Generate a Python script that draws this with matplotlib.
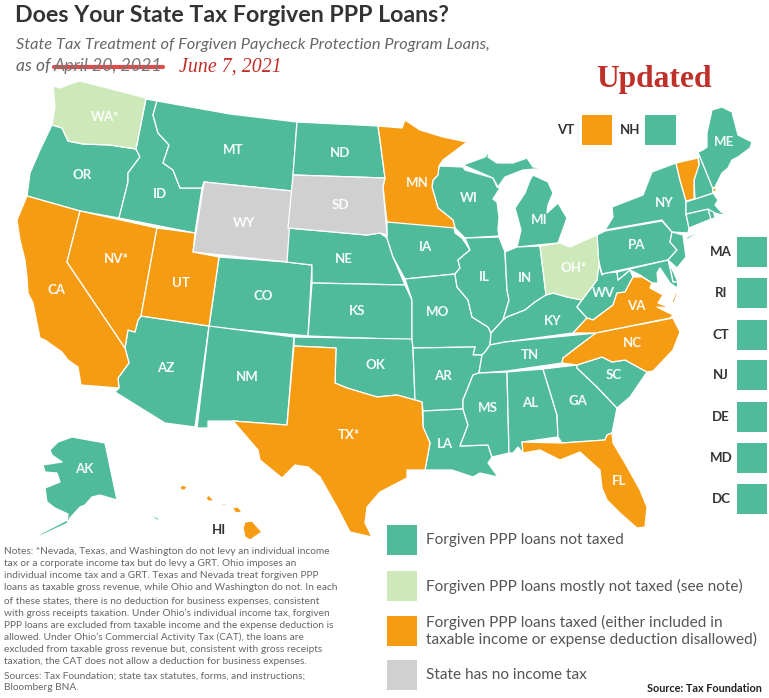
"""
plot.py - Does Your State Tax Forgiven PPP Loans? map, saved to out.png
"""

import matplotlib
matplotlib.use("Agg")
import matplotlib.pyplot as plt
from matplotlib.patches import Polygon, Rectangle

OUTPUT_FILE = "out.png"

GREEN  = "#4fbb9a"
LIGHT  = "#cde9b9"
ORANGE = "#f59c12"
GRAY   = "#d0d0d0"
RED    = "#c0302a"

# Status per state
NOT_TAXED = ["OR", "ID", "MT", "ND", "CO", "NE", "KS", "OK", "AZ", "NM", "IA", "MO", "AR", "LA",
             "WI", "MI_UP", "MI_LP", "IL", "IN", "KY", "TN", "MS", "AL", "GA", "SC", "WV", "PA",
             "NY", "LI", "NJ", "DE", "MD", "CT", "RI", "MA", "NH", "ME", "AK", "AK_PAN", "AK_ALEUT"]
MOSTLY_NOT_TAXED = ["WA", "OH"]
TAXED = ["CA", "NV", "UT", "TX", "MN", "VA", "VA_SHORE", "NC", "FL", "VT", "NH_COAST",
         "HI_1", "HI_2", "HI_3", "HI_4", "HI_5"]
NO_INCOME_TAX = ["WY", "SD"]

# Hand traced outlines, in image pixels
OUTLINES = {
    "WA": [(53,86),(60,88),(70,84),(80,81),(146,98),(136,149),(110,145),(83,144),(68,141),(62,128),(52,125),(55,107)],
    "OR": [(52,125),(62,128),(68,141),(83,144),(110,145),(136,149),(140,157),(128,173),(128,182),(119,218),(80,211),(27,196),(30,173),(40,150)],
    "ID": [(146,99),(157,101),(153,115),(158,133),(169,145),(163,163),(173,170),(180,188),(202,188),(195,233),(119,218),(128,182),(128,173),(140,157),(136,149)],
    "MT": [(157,101),(230,114),(297,122),(292,191),(204,182),(202,188),(180,188),(173,170),(163,163),(169,145),(158,133),(153,115)],
    "ND": [(297,122),(378,126),(380,140),(385,178),(293,175)],
    "SD": [(293,175),(385,178),(383,187),(387,235),(380,233),(367,235),(288,228)],
    "WY": [(204,182),(292,191),(287,262),(193,252)],
    "UT": [(157,228),(195,233),(193,252),(219,257),(209,326),(141,316)],
    "NV": [(80,211),(157,228),(141,316),(138,320),(135,332),(128,330),(125,348),(67,262)],
    "CA": [(27,196),(80,211),(67,262),(125,348),(129,363),(118,378),(119,388),(81,385),(78,367),(68,360),(62,352),(45,340),(40,338),(33,303),(28,293),(27,277),(25,260),(20,240),(17,220)],
    "AZ": [(141,316),(209,326),(195,427),(165,423),(115,392),(119,388),(118,378),(129,363),(125,348),(128,330),(135,332),(138,320)],
    "NM": [(209,326),(294,337),(287,425),(233,421),(208,421),(208,428),(197,428)],
    "CO": [(219,257),(287,262),(312,265),(308,336),(209,327)],
    "NE": [(288,228),(367,235),(380,233),(387,238),(393,257),(405,285),(312,283),(312,265),(286,262)],
    "KS": [(312,283),(405,285),(412,300),(412,340),(308,336)],
    "OK": [(294,337),(412,339),(413,348),(415,400),(397,395),(377,397),(347,388),(335,383),(336,348),(294,346)],
    "TX": [(294,346),(336,348),(335,383),(347,388),(377,397),(397,395),(415,400),(422,402),(423,427),(430,443),(425,470),(407,470),
           (407,478),(380,492),(367,507),(365,523),(372,537),(350,532),(337,507),(320,477),(308,467),(295,465),(282,478),(260,460),(258,450),(233,421),(287,425)],
    "MN": [(378,126),(402,128),(405,120),(420,130),(443,137),(467,142),(443,160),(439,166),(438,175),(433,180),(432,187),(438,208),(453,220),(455,228),(387,222),(383,187),(385,178),(380,140)],
    "IA": [(387,222),(453,222),(455,233),(462,238),(470,250),(458,260),(460,268),(455,274),(405,279),(393,257),(387,238)],
    "MO": [(405,279),(455,274),(457,287),(468,300),(472,317),(488,327),(491,333),(490,345),(485,352),(482,355),(473,355),(475,347),(413,348),(412,339),(412,300)],
    "AR": [(413,348),(475,347),(473,355),(482,355),(479,373),(473,375),(463,400),(463,409),(423,411),(422,402),(415,400)],
    "LA": [(423,411),(463,409),(468,425),(460,446),(488,445),(492,457),(488,463),(498,477),(480,473),(473,477),(452,470),(425,470),(430,443),(423,427)],
    "WI": [(439,166),(463,167),(465,170),(493,178),(497,187),(500,188),(493,199),(497,202),(499,217),(498,230),(499,236),(465,238),(455,228),(453,220),(438,208),(432,187),(433,180),(438,175)],
    "MI_UP": [(463,165),(485,157),(490,150),(488,157),(497,163),(513,163),(527,158),(533,167),(547,168),(523,170),(505,177),(498,187),(493,178)],
    "MI_LP": [(533,175),(548,182),(553,193),(548,205),(547,213),(558,203),(567,218),(558,243),(517,247),(521,230),(515,208),(525,193),(530,180)],
    "IL": [(465,238),(499,237),(505,252),(507,290),(509,300),(503,320),(491,333),(488,327),(472,317),(468,300),(457,287),(455,274),(460,268),(458,260),(470,250)],
    "IN": [(505,252),(517,247),(540,246),(546,295),(535,302),(525,310),(507,317),(503,320),(509,300),(507,290)],
    "OH": [(540,246),(560,243),(570,247),(597,235),(599,265),(597,280),(582,300),(567,297),(553,293),(546,295)],
    "KY": [(503,320),(507,317),(525,310),(535,302),(546,295),(553,293),(567,297),(582,300),(577,307),(587,318),(573,333),(505,342),(490,345),(491,333)],
    "TN": [(490,345),(505,342),(596,333),(580,345),(563,358),(562,363),(507,371),(479,373),(482,355),(485,352)],
    "MS": [(479,373),(507,372),(509,453),(492,457),(488,445),(460,446),(468,425),(463,409),(463,400),(473,375)],
    "AL": [(507,372),(543,369),(557,415),(558,437),(522,442),(523,453),(518,447),(513,453),(509,453)],
    "GA": [(543,369),(577,365),(577,368),(597,387),(617,408),(612,433),(607,435),(605,440),(562,443),(558,437),(557,415)],
    "SC": [(577,368),(577,365),(602,357),(612,362),(625,360),(647,372),(630,397),(617,408),(597,387)],
    "NC": [(596,333),(673,318),(680,332),(673,350),(653,371),(647,372),(625,360),(612,362),(602,357),(577,365),(562,363),(563,358),(580,345)],
    "VA": [(573,333),(587,318),(593,320),(613,305),(617,293),(625,292),(633,277),(642,277),(652,283),(650,288),(663,295),(658,303),(670,308),(657,307),(673,315),(670,318),(596,333)],
    "VA_SHORE": [(676,292),(677,294),(674,303),(672,302)],
    "WV": [(598,262),(602,275),(605,273),(617,272),(618,280),(630,270),(633,277),(625,292),(617,293),(613,305),(593,320),(587,318),(577,307),(582,300),(597,280)],
    "FL": [(522,442),(562,443),(605,440),(607,435),(612,433),(613,443),(625,463),(640,490),(647,507),(645,527),(637,528),(620,513),(607,500),(602,488),(600,470),(580,452),(560,460),(540,450),(523,453)],
    "PA": [(597,235),(605,231),(662,221),(672,232),(670,242),(677,250),(668,260),(602,274),(598,258)],
    "NY": [(605,230),(613,217),(612,207),(643,195),(652,172),(676,163),(680,180),(686,201),(686,214),(689,228),(688,233),(672,232),(662,220)],
    "LI": [(685,238),(707,228),(688,239)],
    "NJ": [(672,232),(683,235),(686,257),(677,268),(668,260),(677,250),(670,242)],
    "DE": [(668,260),(678,282),(673,282),(670,268)],
    "MD": [(617,272),(668,260),(670,268),(673,282),(678,282),(677,288),(670,283),(660,268),(657,273),(658,283),(652,283),(640,275),(630,270),(618,280)],
    "CT": [(686,214),(708,209),(711,219),(689,228)],
    "RI": [(708,209),(713,208),(715,218),(711,219)],
    "MA": [(686,202),(713,193),(718,200),(715,205),(722,213),(732,208),(722,215),(715,213),(708,209),(686,214)],
    "VT": [(676,163),(698,158),(699,165),(694,180),(694,199),(686,201),(680,180)],
    "NH": [(698,152),(713,188),(713,193),(695,199),(694,180),(699,163)],
    "NH_COAST": [(713,188),(716,188),(716,191),(713,192)],
    "ME": [(698,152),(703,150),(707,147),(707,133),(712,110),(722,107),(732,112),(738,135),(752,142),(750,148),(738,157),(732,160),(728,168),(722,173),(715,187),(713,189)],
    "AK": [(50,450),(58,442),(72,437),(105,443),(117,500),(100,495),(92,497),(85,505),(80,507),(70,518),(67,525),(68,514),(55,508),(47,502),(45,488),(60,482),(57,473),(45,472),(43,465),(62,462),(52,455)],
    "AK_PAN": [(117,500),(130,505),(158,518),(160,522),(145,512),(133,507)],
    "AK_ALEUT": [(67,520),(40,534),(40,536),(68,523)],
    "HI_1": [(180,487),(183,485),(187,487),(185,490),(181,490)],
    "HI_2": [(206,498),(209,495),(214,501),(208,501)],
    "HI_3": [(222,503),(228,504),(228,505),(222,505)],
    "HI_4": [(232,508),(238,507),(242,512),(236,513)],
    "HI_5": [(245,522),(252,521),(262,532),(250,540),(245,537),(243,528)],
}

# Map labels: text, x, y
MAP_LABELS = [("WA*",105,117),("OR",82,175),("ID",160,194),("MT",233,150),("ND",340,153),("SD",340,205),
              ("WY",244,223),("NV*",116,259),("UT",181,283),("CA",57,290),("CO",263,296),("NE",344,259),
              ("KS",357,311),("AZ",166,368),("NM",247,377),("OK",375,365),("TX*",349,435),("MN",417,183),
              ("IA",426,247),("MO",438,312),("AR",443,376),("LA",445,444),("WI",469,198),("IL",484,277),
              ("MI",539,220),("IN",525,278),("OH*",574,268),("KY",553,321),("TN",530,355),("MS",488,408),
              ("AL",530,403),("GA",578,401),("SC",614,375),("NC",632,343),("VA",636,306),("WV",603,293),
              ("PA",637,245),("NY",664,203),("ME",724,142),("FL",619,481),("AK",84,469)]

SMALL_STATES = ["MA", "RI", "CT", "NJ", "DE", "MD", "DC"]
SMALL_STATE_TOPS = [237, 278, 320, 360, 402, 443, 484]

LEGEND_LABELS = ["Forgiven PPP loans not taxed",
                 "Forgiven PPP loans mostly not taxed (see note)",
                 "Forgiven PPP loans taxed (either included in\ntaxable income or expense deduction disallowed)",
                 "State has no income tax"]
LEGEND_COLORS = [GREEN, LIGHT, ORANGE, GRAY]
LEGEND_TOPS = [525, 571, 616, 660]

NOTES = ["Notes: *Nevada, Texas, and Washington do not levy an individual income",
         "tax or a corporate income tax but do levy a GRT. Ohio imposes an",
         "individual income tax and a GRT. Texas and Nevada treat forgiven PPP",
         "loans as taxable gross revenue, while Ohio and Washington do not. In each",
         "of these states, there is no deduction for business expenses, consistent",
         "with gross receipts taxation. Under Ohio\u2019s individual income tax, forgiven",
         "PPP loans are excluded from taxable income and the expense deduction is",
         "allowed. Under Ohio\u2019s Commercial Activity Tax (CAT), the loans are",
         "excluded from taxable gross revenue but, consistent with gross receipts",
         "taxation, the CAT does not allow a deduction for business expenses."]
SOURCES = ["Sources: Tax Foundation; state tax statutes, forms, and instructions;",
           "Bloomberg BNA."]
NOTE_Y = [552, 564, 576, 588, 601, 613, 625, 637, 649, 661]
SOURCE_Y = [676, 688]

plt.rcParams["font.family"] = ["Lato", "DejaVu Sans"]

fig = plt.figure(figsize=(7.69, 6.98), dpi=100)
ax = fig.add_axes([0, 0, 1, 1])
ax.set_xlim(0, 769)
ax.set_ylim(698, 0)
ax.axis("off")

# ── States ──────────────────────────────────────────────────────────────
groups = [(NOT_TAXED, GREEN), (MOSTLY_NOT_TAXED, LIGHT), (TAXED, ORANGE), (NO_INCOME_TAX, GRAY)]
for names, color in groups:
    for name in names:
        ax.add_patch(Polygon(OUTLINES[name], closed=True, facecolor=color,
                             edgecolor="white", linewidth=0.9, joinstyle="round"))

for label, x, y in MAP_LABELS:
    ax.text(x, y, label, color="white", fontsize=9.5, fontweight="bold",
            ha="center", va="center", alpha=0.95)

# ── Title block ─────────────────────────────────────────────────────────
ax.text(15, 16, "Does Your State Tax Forgiven PPP Loans?", fontsize=16.7, fontweight="bold",
        color="#333333", ha="left", va="center")
ax.text(16, 45, "State Tax Treatment of Forgiven Paycheck Protection Program Loans,",
        fontsize=11.8, style="italic", color="#666666", ha="left", va="center")
ax.text(16, 66, "as of", fontsize=12.5, style="italic", color="#666666", ha="left", va="center")
ax.text(54, 66, "April 20, 2021", fontsize=12.8, style="italic", color="#777777", ha="left", va="center")
ax.plot([54, 163], [67, 67], color="#d8383a", linewidth=3, alpha=0.9, solid_capstyle="round")
ax.text(179, 67, "June 7, 2021", fontsize=14.3, style="italic", family="Liberation Serif",
        color=RED, ha="left", va="center")
ax.text(596, 79, "Updated", fontsize=22.7, fontweight="bold", family="Liberation Serif",
        color=RED, ha="left", va="center")

# ── Small state boxes ───────────────────────────────────────────────────
ax.add_patch(Rectangle((582, 115), 30, 30, facecolor=ORANGE, edgecolor="none"))
ax.add_patch(Rectangle((645, 115), 31, 30, facecolor=GREEN, edgecolor="none"))
ax.text(566, 130, "VT", fontsize=9.5, fontweight="bold", color="#333333", ha="center", va="center")
ax.text(630, 130, "NH", fontsize=9.5, fontweight="bold", color="#333333", ha="center", va="center")
ax.text(219, 530, "HI", fontsize=9.5, fontweight="bold", color="#333333", ha="center", va="center")

for name, top in zip(SMALL_STATES, SMALL_STATE_TOPS):
    ax.add_patch(Rectangle((737, top), 30, 30, facecolor=GREEN, edgecolor="none"))
    ax.text(721, top + 15, name, fontsize=9.5, fontweight="bold", color="#333333",
            ha="center", va="center")

# ── Legend ──────────────────────────────────────────────────────────────
for label, color, top in zip(LEGEND_LABELS, LEGEND_COLORS, LEGEND_TOPS):
    ax.add_patch(Rectangle((387, top), 30, 30, facecolor=color, edgecolor="none"))
    ax.text(426, top + 15, label, fontsize=11.1, color="#555555", ha="left", va="center",
            linespacing=1.15)

# ── Notes ───────────────────────────────────────────────────────────────
for line, y in zip(NOTES, NOTE_Y):
    ax.text(4, y, line, fontsize=7.25, color="#666666", ha="left", va="center")
for line, y in zip(SOURCES, SOURCE_Y):
    ax.text(4, y, line, fontsize=7.25, color="#666666", ha="left", va="center")
ax.text(762, 688, "Source: Tax Foundation", fontsize=7.8, fontweight="bold", color="#222222",
        ha="right", va="center")

fig.savefig(OUTPUT_FILE, dpi=100)
